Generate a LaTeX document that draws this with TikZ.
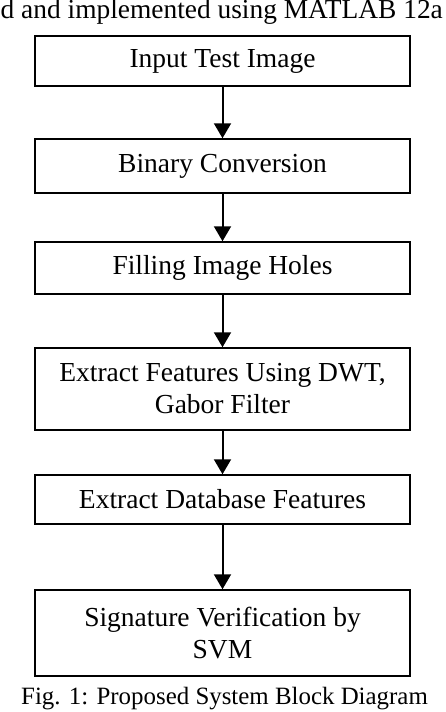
\documentclass[tikz,border=0pt]{standalone}
\usepackage{fontspec}
\setmainfont{Liberation Serif}
\usetikzlibrary{arrows.meta}
\begin{document}
\begin{tikzpicture}[x=1pt,y=1pt,
  blk/.style={draw,line width=1.5pt,minimum width=375pt,inner sep=0pt,align=center,
    font=\fontsize{27.5}{32}\selectfont},
  conn/.style={line width=2pt,-{Triangle[length=15pt,width=17pt]}},
  txt/.style={inner sep=0pt,anchor=base west}]
\useasboundingbox (0,0) rectangle (446,-712);
\clip (0,0) rectangle (446,-712);
\node[txt,font=\fontsize{27.4}{32}\selectfont] (top) at (0.5,-19) {d and implemented using MATLAB 12a};
\node[blk,minimum height=50pt] (b1) at (222.5,-61) {Input Test Image};
\node[blk,minimum height=54pt] (b2) at (222.5,-166) {Binary Conversion};
\node[blk,minimum height=52pt] (b3) at (222.5,-268) {Filling Image Holes};
\node[blk,minimum height=82pt] (b4) at (222.5,-389) {Extract Features Using DWT,\\Gabor Filter};
\node[blk,minimum height=49pt] (b5) at (222.5,-499.5) {Extract Database Features};
\node[blk,minimum height=86pt] (b6) at (222.5,-633) {Signature Verification by\\SVM};
\node[txt,font=\fontsize{24.9}{30}\selectfont] (cap) at (21,-704) {Fig. 1: Proposed System Block Diagram};
\draw[conn] (b1) -- (b2);
\draw[conn] (b2) -- (b3);
\draw[conn] (b3) -- (b4);
\draw[conn] (b4) -- (b5);
\draw[conn] (b5) -- (b6);
\end{tikzpicture}
\end{document}
